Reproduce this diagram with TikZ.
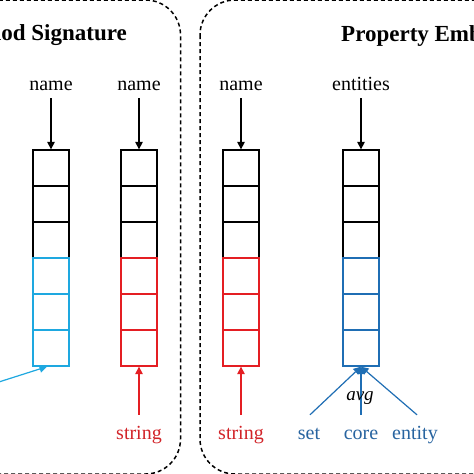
\documentclass[tikz,border=0pt]{standalone}
\usepackage{fontspec}
\setmainfont{Liberation Serif}
\usetikzlibrary{arrows.meta,calc}
\definecolor{cyanb}{RGB}{30,168,224}
\definecolor{redc}{RGB}{228,30,35}
\definecolor{redt}{RGB}{210,35,40}
\definecolor{blued}{RGB}{31,110,180}
\definecolor{bluet}{RGB}{40,100,160}
\begin{document}
\begin{tikzpicture}[x=1pt,y=-1pt,
  cell/.style={draw, minimum width=36pt, minimum height=36pt, inner sep=0pt, line width=1.3pt},
  lbl/.style={font=\fontsize{20}{24}\selectfont, inner sep=0pt, text height=14pt, text depth=4pt, anchor=base},
  arr/.style={line width=1.2pt, -{Triangle[width=7.5pt,length=7.5pt]}},
  panel/.style={draw, dash pattern=on 4pt off 3pt, line width=1.5pt, rounded corners=35pt},
  title/.style={font=\fontsize{23}{27}\selectfont\bfseries, inner sep=0pt}]
\useasboundingbox (0,0) rectangle (474,474);
\clip (0,0) rectangle (474,474);
\fill[white] (0,0) rectangle (474,474);
% panels
\draw[panel] (-300,0) rectangle (180.5,474);
\draw[panel] (200,0) rectangle (800,474);
% titles
\node[title, anchor=base east] (t1) at (127,40) {Method Signature};
\node[title, anchor=base west] (t2) at (341,41) {Property Embedding};
% cells
\foreach \c/\x/\col in {1/51/cyanb,2/139/redc,3/241/redc,4/361/blued}{
  \foreach \r in {1,2,3}
    \node[cell] (c\c-\r) at (\x,{150+36*(\r-0.5)}) {};
  \foreach \r in {4,5,6}
    \node[cell, draw=\col] (c\c-\r) at (\x,{150+36*(\r-0.5)}) {};
}
% top labels
\node[lbl] (n1) at (51,90) {name};
\node[lbl] (n2) at (139,90) {name};
\node[lbl] (n3) at (241,90) {name};
\node[lbl] (n4) at (361,90) {entities};
\foreach \i in {1,2,3,4}
  \draw[arr, shorten <=4pt] (n\i) -- (c\i-1.north);
% bottom labels
\node[lbl, text=redt] (s2) at (139,439) {string};
\node[lbl, text=redt] (s3) at (241,439) {string};
\node[lbl, text=bluet] (set) at (309,439) {set};
\node[lbl, text=bluet] (core) at (361,439) {core};
\node[lbl, text=bluet] (ent) at (415,439) {entity};
\draw[arr, redc, shorten <=10pt] (s2) -- (c2-6.south);
\draw[arr, redc, shorten <=10pt] (s3) -- (c3-6.south);
\draw[arr, blued] ($(set.north)+(1,-10)$) -- (c4-6.south);
\draw[arr, blued] ($(core.north)+(0,-10)$) -- (c4-6.south);
\draw[arr, blued] ($(ent.north)+(2,-10)$) -- (c4-6.south);
\node[font=\fontsize{19}{22}\selectfont\itshape, inner sep=0pt, anchor=base] (avg) at (360,400) {avg};
% external cyan arrow
\coordinate (ext) at (-20,388);
\draw[arr, cyanb] (ext) -- ($(c1-6.south)+(-4,0)$);
\end{tikzpicture}
\end{document}
